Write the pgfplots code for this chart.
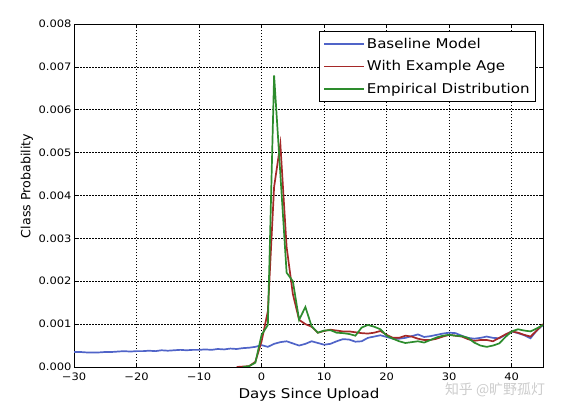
\documentclass[border=0pt]{standalone}
\usepackage{pgfplots}
\pgfplotsset{compat=1.18}
\usepackage{fontspec}
\setmainfont[FakeStretch=1.12]{DejaVu Sans}
\newfontfamily\plainfont{DejaVu Sans}
\newfontfamily\cjk{Noto Sans CJK SC}
\definecolor{cblue}{RGB}{80,100,200}
\definecolor{cred}{RGB}{165,40,40}
\definecolor{cgreen}{RGB}{45,140,45}
\begin{document}
\begin{tikzpicture}
\useasboundingbox (0,0) rectangle (570bp,412bp);
\begin{axis}[
  at={(74bp,45bp)}, anchor=south west,
  scale only axis, width=469bp, height=343bp,
  xmin=-30, xmax=45, ymin=0, ymax=0.008,
  xtick={-30,-20,-10,0,10,20,30,40},
  xticklabels={−30,−20,−10,0,10,20,30,40},
  ytick={0,0.001,0.002,0.003,0.004,0.005,0.006,0.007,0.008},
  yticklabels={0.000,0.001,0.002,0.003,0.004,0.005,0.006,0.007,0.008},
  scaled y ticks=false,
  tick align=inside, major tick length=4bp,
  grid=major,
  major grid style={black, line width=0.6bp, dash pattern=on 1.5bp off 1.5bp},
  axis line style={black, line width=0.9bp},
  tick style={black, line width=0.7bp},
  ticklabel style={font=\fontsize{10.3}{12}\selectfont, inner sep=0pt},
  xticklabel style={anchor=north, yshift=-5.3bp},
  yticklabel style={anchor=east, xshift=-2.3bp},
  /pgf/number format/assume math mode=true,
  legend style={at={(1,1)}, anchor=north east, xshift=-7bp, yshift=-7bp,
    draw=black, line width=0.8bp, font=\fontsize{13.5}{16}\selectfont,
    row sep=6.5bp, inner xsep=4bp, inner ysep=5bp},
  legend cell align=left,
  legend image code/.code={\draw[#1, line width=1.7bp] (0bp,0bp) -- (23bp,0bp);
     \path (-3bp,0bp) -- (37bp,0bp);},
]
\addplot[cblue, line width=1.7bp] coordinates {
(-30,0.00035) (-29,0.00035) (-28,0.00034) (-27,0.00034) (-26,0.00034) (-25,0.00035)
(-24,0.00035) (-23,0.00036) (-22,0.00037) (-21,0.00036) (-20,0.00037) (-19,0.00037)
(-18,0.00038) (-17,0.00037) (-16,0.00039) (-15,0.00038) (-14,0.00039) (-13,0.00040)
(-12,0.00039) (-11,0.00040) (-10,0.00040) (-9,0.00041) (-8,0.00040) (-7,0.00042)
(-6,0.00041) (-5,0.00043) (-4,0.00042) (-3,0.00044) (-2,0.00045) (-1,0.00047)
(0,0.00051) (1,0.00047) (2,0.00054) (3,0.00058) (4,0.00060) (5,0.00055)
(6,0.00050) (7,0.00054) (8,0.00060) (9,0.00056) (10,0.00052) (11,0.00054)
(12,0.00060) (13,0.00065) (14,0.00064) (15,0.00059) (16,0.00060) (17,0.00068)
(18,0.00071) (19,0.00074) (20,0.00070) (21,0.00066) (22,0.00066) (23,0.00068)
(24,0.00072) (25,0.00076) (26,0.00070) (27,0.00072) (28,0.00075) (29,0.00078)
(30,0.00080) (31,0.00079) (32,0.00073) (33,0.00068) (34,0.00066) (35,0.00068)
(36,0.00071) (37,0.00068) (38,0.00067) (39,0.00075) (40,0.00083) (41,0.00079)
(42,0.00074) (43,0.00067) (44,0.00085) (45,0.00098)
};
\addlegendentry{Baseline Model}
\addplot[cred, line width=1.7bp] coordinates {
(-4,0) (-3,0.00001) (-2,0.00002) (-1,0.00012) (0,0.0006) (1,0.0013) (2,0.0042)
(3,0.0052) (4,0.0028) (5,0.0017) (6,0.0011) (7,0.0010) (8,0.00094) (9,0.00080)
(10,0.00084) (11,0.00087) (12,0.00085) (13,0.00083) (14,0.00083) (15,0.00081)
(16,0.00079) (17,0.00078) (18,0.00080) (19,0.00084) (20,0.00075) (21,0.00068)
(22,0.00068) (23,0.00073) (24,0.00071) (25,0.00066) (26,0.00063) (27,0.00063)
(28,0.00066) (29,0.00071) (30,0.00075) (31,0.00073) (32,0.00071) (33,0.00065)
(34,0.00061) (35,0.00063) (36,0.00063) (37,0.00060) (38,0.00068) (39,0.00076)
(40,0.00083) (41,0.00080) (42,0.00075) (43,0.00071) (44,0.00085) (45,0.0010)
};
\addlegendentry{With Example Age}
\addplot[cgreen, line width=1.7bp] coordinates {
(-3,0) (-2,0.00002) (-1,0.00010) (0,0.00075) (1,0.00098) (2,0.0068) (3,0.0045)
(4,0.0022) (5,0.0020) (6,0.0011) (7,0.0014) (8,0.00095) (9,0.00080) (10,0.00085)
(11,0.00086) (12,0.00080) (13,0.00079) (14,0.00077) (15,0.00073) (16,0.00092)
(17,0.00098) (18,0.00094) (19,0.00088) (20,0.00073) (21,0.00066) (22,0.00060)
(23,0.00056) (24,0.00058) (25,0.00060) (26,0.00057) (27,0.00063) (28,0.00069)
(29,0.00073) (30,0.00075) (31,0.00073) (32,0.00072) (33,0.00068) (34,0.00057)
(35,0.00050) (36,0.00047) (37,0.00050) (38,0.00055) (39,0.00070) (40,0.00083)
(41,0.00088) (42,0.00085) (43,0.00083) (44,0.00090) (45,0.00098)
};
\addlegendentry{Empirical Distribution}
\end{axis}
\node[anchor=base, font=\fontsize{13.5}{16}\selectfont] at (309bp,13.3bp) {Days Since Upload};
\node[rotate=90, font=\plainfont\fontsize{12.7}{15}\selectfont] at (27bp,226bp) {Class Probability};
\node[text=gray!40, font=\cjk\fontsize{14}{14}\selectfont] at (495bp,22bp) {知乎 @旷野孤灯};
\end{tikzpicture}
\end{document}
